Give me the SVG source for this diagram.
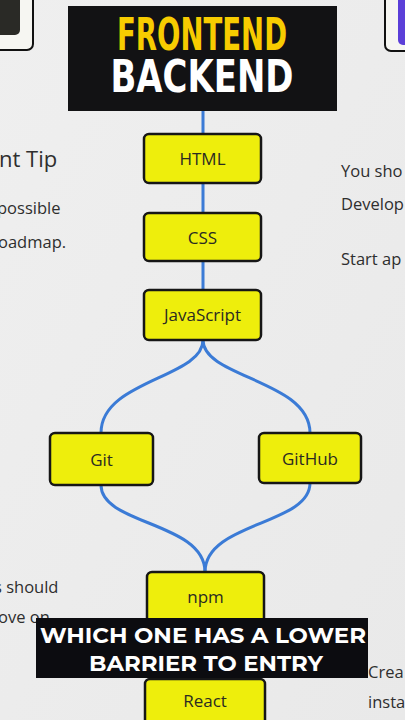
<svg xmlns="http://www.w3.org/2000/svg" width="405" height="720" viewBox="0 0 405 720">
<defs>
<linearGradient id="bg" x1="0" y1="0" x2="1" y2="1">
<stop offset="0" stop-color="#efefef"/>
<stop offset="0.5" stop-color="#ececec"/>
<stop offset="1" stop-color="#e9e9e9"/>
</linearGradient>
<style>
.box{fill:#eeee0c;stroke:#161616;stroke-width:2.5}
.lbl{font-family:"Open Sans","Noto Sans",sans-serif;font-size:17px;fill:#2a2a22;text-anchor:middle}
.bgt{font-family:"Open Sans","Noto Sans",sans-serif;font-size:16.5px;fill:#2e2e2e}
.big{font-size:22px}
.con{fill:none;stroke:#3b7bd6;stroke-width:3;stroke-linecap:round}
.title{font-family:"DejaVu Sans Condensed","DejaVu Sans",sans-serif;font-weight:bold;font-size:44px;text-anchor:middle}
.cap{font-family:"Montserrat","Liberation Sans",sans-serif;font-weight:bold;font-size:22px;fill:#ffffff;text-anchor:middle}
</style>
</defs>
<rect width="405" height="720" fill="url(#bg)"/>

<g id="bg-cards">
<rect x="-10" y="-10" width="43" height="60" rx="6" fill="#f6f6f2" stroke="#111" stroke-width="2"/>
<rect x="-10" y="-10" width="30" height="45" rx="5" fill="#2a2a26"/>
<rect x="385" y="-10" width="40" height="61" rx="6" fill="#f6f6f2" stroke="#111" stroke-width="2"/>
<rect x="398" y="-10" width="20" height="55" rx="5" fill="#5b3fd8"/>
</g>

<g id="bg-text">
<text class="bgt big" x="-1" y="167">nt Tip</text>
<text class="bgt" x="-3" y="214">possible</text>
<text class="bgt" x="-2" y="248">oadmap.</text>
<text class="bgt" x="341" y="177">You sho</text>
<text class="bgt" x="341" y="210">Develop</text>
<text class="bgt" x="341" y="265">Start ap</text>
<text class="bgt" x="-6" y="593">s should</text>
<text class="bgt" x="-2" y="623">ove on</text>
<text class="bgt" x="368" y="678">Crea</text>
<text class="bgt" x="368" y="708">insta</text>
</g>

<g id="connectors">
<line class="con" x1="203" y1="108" x2="203" y2="134"/>
<line class="con" x1="203" y1="183" x2="203" y2="213"/>
<line class="con" x1="203" y1="261" x2="203" y2="290"/>
<path class="con" d="M203,340 C203,378 101,380 101,433"/>
<path class="con" d="M203,340 C203,378 310,380 310,433"/>
<path class="con" d="M101,485 C101,525 205,522 205,572"/>
<path class="con" d="M310,483 C310,525 205,522 205,572"/>
<line class="con" x1="205" y1="620" x2="205" y2="680"/>
</g>

<g id="node-html"><rect class="box" x="144" y="134" width="117" height="49" rx="5"/><text class="lbl" x="202.5" y="165">HTML</text></g>
<g id="node-css"><rect class="box" x="144" y="213" width="117" height="48" rx="5"/><text class="lbl" x="202.5" y="244">CSS</text></g>
<g id="node-js"><rect class="box" x="144" y="290" width="117" height="50" rx="5"/><text class="lbl" x="202.5" y="321">JavaScript</text></g>
<g id="node-git"><rect class="box" x="50" y="433" width="103" height="52" rx="5"/><text class="lbl" x="101.5" y="466">Git</text></g>
<g id="node-github"><rect class="box" x="259" y="433" width="102" height="50" rx="5"/><text class="lbl" x="310" y="465">GitHub</text></g>
<g id="node-npm"><rect class="box" x="147" y="572" width="117" height="60" rx="5"/><text class="lbl" x="205.5" y="603">npm</text></g>
<g id="node-react"><rect class="box" x="145" y="679" width="120" height="55" rx="5"/><text class="lbl" x="205" y="707">React</text></g>

<g id="title">
<rect x="68" y="6" width="269" height="105" fill="#121214"/>
<text class="title" x="202" y="50" fill="#f7cc00" textLength="170" lengthAdjust="spacingAndGlyphs">FRONTEND</text>
<text class="title" x="202" y="92" fill="#ffffff" textLength="183" lengthAdjust="spacingAndGlyphs">BACKEND</text>
</g>

<g id="caption">
<rect x="36" y="618" width="332" height="60" fill="#0c0c10"/>
<text class="cap" x="203" y="643" textLength="326" lengthAdjust="spacingAndGlyphs">WHICH ONE HAS A LOWER</text>
<text class="cap" x="206" y="671" textLength="234" lengthAdjust="spacingAndGlyphs">BARRIER TO ENTRY</text>
</g>
</svg>
